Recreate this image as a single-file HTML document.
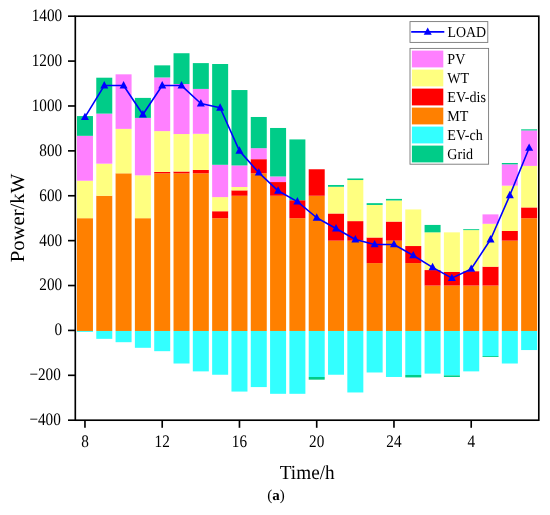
<!DOCTYPE html>
<html><head><meta charset="utf-8"><title>Power chart</title>
<style>
html,body{margin:0;padding:0;background:#fff;}
svg{display:block;}
text{font-family:"Liberation Serif","Times New Roman",serif;fill:#000;text-rendering:geometricPrecision;}
.tk{font-size:17.6px;}
.lg{font-size:15.3px;}
.ti{font-size:20px;}
.cap{font-size:15px;}
</style></head>
<body>
<svg width="550" height="515" viewBox="0 0 550 515">
<rect width="550" height="515" fill="#fff"/>
<g shape-rendering="auto">
<rect x="76.96" y="218.20" width="16.0" height="112.77" fill="#ff8000"/>
<rect x="76.96" y="180.72" width="16.0" height="37.48" fill="#ffff80"/>
<rect x="76.96" y="135.83" width="16.0" height="44.89" fill="#ff80ff"/>
<rect x="76.96" y="116.08" width="16.0" height="19.75" fill="#00cc88"/>
<rect x="76.96" y="330.97" width="16.0" height="0.90" fill="#33ffff"/>
<rect x="96.27" y="195.76" width="16.0" height="135.22" fill="#ff8000"/>
<rect x="96.27" y="163.66" width="16.0" height="32.10" fill="#ffff80"/>
<rect x="96.27" y="113.61" width="16.0" height="50.05" fill="#ff80ff"/>
<rect x="96.27" y="77.70" width="16.0" height="35.91" fill="#00cc88"/>
<rect x="96.27" y="330.97" width="16.0" height="7.86" fill="#33ffff"/>
<rect x="115.58" y="173.31" width="16.0" height="157.66" fill="#ff8000"/>
<rect x="115.58" y="128.87" width="16.0" height="44.44" fill="#ffff80"/>
<rect x="115.58" y="74.33" width="16.0" height="54.54" fill="#ff80ff"/>
<rect x="115.58" y="330.97" width="16.0" height="11.22" fill="#33ffff"/>
<rect x="134.89" y="218.20" width="16.0" height="112.77" fill="#ff8000"/>
<rect x="134.89" y="175.33" width="16.0" height="42.87" fill="#ffff80"/>
<rect x="134.89" y="117.87" width="16.0" height="57.46" fill="#ff80ff"/>
<rect x="134.89" y="97.90" width="16.0" height="19.98" fill="#00cc88"/>
<rect x="134.89" y="330.97" width="16.0" height="16.83" fill="#33ffff"/>
<rect x="154.21" y="173.31" width="16.0" height="157.66" fill="#ff8000"/>
<rect x="154.21" y="171.96" width="16.0" height="1.35" fill="#ff0000"/>
<rect x="154.21" y="131.12" width="16.0" height="40.85" fill="#ffff80"/>
<rect x="154.21" y="77.47" width="16.0" height="53.64" fill="#ff80ff"/>
<rect x="154.21" y="65.35" width="16.0" height="12.12" fill="#00cc88"/>
<rect x="154.21" y="330.97" width="16.0" height="20.20" fill="#33ffff"/>
<rect x="173.52" y="173.31" width="16.0" height="157.66" fill="#ff8000"/>
<rect x="173.52" y="171.52" width="16.0" height="1.80" fill="#ff0000"/>
<rect x="173.52" y="134.03" width="16.0" height="37.48" fill="#ffff80"/>
<rect x="173.52" y="83.98" width="16.0" height="50.05" fill="#ff80ff"/>
<rect x="173.52" y="53.23" width="16.0" height="30.75" fill="#00cc88"/>
<rect x="173.52" y="330.97" width="16.0" height="32.54" fill="#33ffff"/>
<rect x="192.83" y="173.31" width="16.0" height="157.66" fill="#ff8000"/>
<rect x="192.83" y="169.94" width="16.0" height="3.37" fill="#ff0000"/>
<rect x="192.83" y="133.81" width="16.0" height="36.14" fill="#ffff80"/>
<rect x="192.83" y="88.92" width="16.0" height="44.89" fill="#ff80ff"/>
<rect x="192.83" y="63.11" width="16.0" height="25.81" fill="#00cc88"/>
<rect x="192.83" y="330.97" width="16.0" height="40.40" fill="#33ffff"/>
<rect x="212.14" y="218.20" width="16.0" height="112.77" fill="#ff8000"/>
<rect x="212.14" y="211.24" width="16.0" height="6.96" fill="#ff0000"/>
<rect x="212.14" y="197.10" width="16.0" height="14.14" fill="#ffff80"/>
<rect x="212.14" y="164.78" width="16.0" height="32.32" fill="#ff80ff"/>
<rect x="212.14" y="64.01" width="16.0" height="100.78" fill="#00cc88"/>
<rect x="212.14" y="330.97" width="16.0" height="43.77" fill="#33ffff"/>
<rect x="231.46" y="195.76" width="16.0" height="135.22" fill="#ff8000"/>
<rect x="231.46" y="190.37" width="16.0" height="5.39" fill="#ff0000"/>
<rect x="231.46" y="187.00" width="16.0" height="3.37" fill="#ffff80"/>
<rect x="231.46" y="165.46" width="16.0" height="21.55" fill="#ff80ff"/>
<rect x="231.46" y="90.04" width="16.0" height="75.41" fill="#00cc88"/>
<rect x="231.46" y="330.97" width="16.0" height="60.60" fill="#33ffff"/>
<rect x="250.77" y="173.31" width="16.0" height="157.66" fill="#ff8000"/>
<rect x="250.77" y="159.17" width="16.0" height="14.14" fill="#ff0000"/>
<rect x="250.77" y="148.17" width="16.0" height="11.00" fill="#ff80ff"/>
<rect x="250.77" y="116.98" width="16.0" height="31.20" fill="#00cc88"/>
<rect x="250.77" y="330.97" width="16.0" height="56.11" fill="#33ffff"/>
<rect x="270.08" y="195.76" width="16.0" height="135.22" fill="#ff8000"/>
<rect x="270.08" y="182.06" width="16.0" height="13.69" fill="#ff0000"/>
<rect x="270.08" y="176.45" width="16.0" height="5.61" fill="#ff80ff"/>
<rect x="270.08" y="127.97" width="16.0" height="48.48" fill="#00cc88"/>
<rect x="270.08" y="330.97" width="16.0" height="62.84" fill="#33ffff"/>
<rect x="289.39" y="218.20" width="16.0" height="112.77" fill="#ff8000"/>
<rect x="289.39" y="200.24" width="16.0" height="17.96" fill="#ff0000"/>
<rect x="289.39" y="139.42" width="16.0" height="60.82" fill="#00cc88"/>
<rect x="289.39" y="330.97" width="16.0" height="62.84" fill="#33ffff"/>
<rect x="308.71" y="195.76" width="16.0" height="135.22" fill="#ff8000"/>
<rect x="308.71" y="169.27" width="16.0" height="26.48" fill="#ff0000"/>
<rect x="308.71" y="330.97" width="16.0" height="46.01" fill="#33ffff"/>
<rect x="308.71" y="376.98" width="16.0" height="2.69" fill="#00cc88"/>
<rect x="328.02" y="240.64" width="16.0" height="90.33" fill="#ff8000"/>
<rect x="328.02" y="213.49" width="16.0" height="27.16" fill="#ff0000"/>
<rect x="328.02" y="186.78" width="16.0" height="26.71" fill="#ffff80"/>
<rect x="328.02" y="184.98" width="16.0" height="1.80" fill="#00cc88"/>
<rect x="328.02" y="330.97" width="16.0" height="43.77" fill="#33ffff"/>
<rect x="347.33" y="240.64" width="16.0" height="90.33" fill="#ff8000"/>
<rect x="347.33" y="221.12" width="16.0" height="19.53" fill="#ff0000"/>
<rect x="347.33" y="180.04" width="16.0" height="41.07" fill="#ffff80"/>
<rect x="347.33" y="178.47" width="16.0" height="1.57" fill="#00cc88"/>
<rect x="347.33" y="330.97" width="16.0" height="61.50" fill="#33ffff"/>
<rect x="366.64" y="263.09" width="16.0" height="67.88" fill="#ff8000"/>
<rect x="366.64" y="237.50" width="16.0" height="25.59" fill="#ff0000"/>
<rect x="366.64" y="204.96" width="16.0" height="32.54" fill="#ffff80"/>
<rect x="366.64" y="203.16" width="16.0" height="1.80" fill="#00cc88"/>
<rect x="366.64" y="330.97" width="16.0" height="41.52" fill="#33ffff"/>
<rect x="385.96" y="240.64" width="16.0" height="90.33" fill="#ff8000"/>
<rect x="385.96" y="221.57" width="16.0" height="19.08" fill="#ff0000"/>
<rect x="385.96" y="200.47" width="16.0" height="21.10" fill="#ffff80"/>
<rect x="385.96" y="198.90" width="16.0" height="1.57" fill="#00cc88"/>
<rect x="385.96" y="330.97" width="16.0" height="46.01" fill="#33ffff"/>
<rect x="405.27" y="263.09" width="16.0" height="67.88" fill="#ff8000"/>
<rect x="405.27" y="246.03" width="16.0" height="17.06" fill="#ff0000"/>
<rect x="405.27" y="209.45" width="16.0" height="36.58" fill="#ffff80"/>
<rect x="405.27" y="330.97" width="16.0" height="43.99" fill="#33ffff"/>
<rect x="405.27" y="374.96" width="16.0" height="2.47" fill="#00cc88"/>
<rect x="424.58" y="285.53" width="16.0" height="45.44" fill="#ff8000"/>
<rect x="424.58" y="270.05" width="16.0" height="15.49" fill="#ff0000"/>
<rect x="424.58" y="232.34" width="16.0" height="37.71" fill="#ffff80"/>
<rect x="424.58" y="224.93" width="16.0" height="7.41" fill="#00cc88"/>
<rect x="424.58" y="330.97" width="16.0" height="42.64" fill="#33ffff"/>
<rect x="443.89" y="285.53" width="16.0" height="45.44" fill="#ff8000"/>
<rect x="443.89" y="271.84" width="16.0" height="13.69" fill="#ff0000"/>
<rect x="443.89" y="232.34" width="16.0" height="39.50" fill="#ffff80"/>
<rect x="443.89" y="330.97" width="16.0" height="44.44" fill="#33ffff"/>
<rect x="443.89" y="375.41" width="16.0" height="1.57" fill="#00cc88"/>
<rect x="463.21" y="285.53" width="16.0" height="45.44" fill="#ff8000"/>
<rect x="463.21" y="271.17" width="16.0" height="14.36" fill="#ff0000"/>
<rect x="463.21" y="230.10" width="16.0" height="41.07" fill="#ffff80"/>
<rect x="463.21" y="229.20" width="16.0" height="0.90" fill="#00cc88"/>
<rect x="463.21" y="330.97" width="16.0" height="40.40" fill="#33ffff"/>
<rect x="482.52" y="285.53" width="16.0" height="45.44" fill="#ff8000"/>
<rect x="482.52" y="266.68" width="16.0" height="18.85" fill="#ff0000"/>
<rect x="482.52" y="223.81" width="16.0" height="42.87" fill="#ffff80"/>
<rect x="482.52" y="214.38" width="16.0" height="9.43" fill="#ff80ff"/>
<rect x="482.52" y="330.97" width="16.0" height="25.14" fill="#33ffff"/>
<rect x="482.52" y="356.11" width="16.0" height="0.90" fill="#00cc88"/>
<rect x="501.83" y="240.64" width="16.0" height="90.33" fill="#ff8000"/>
<rect x="501.83" y="230.99" width="16.0" height="9.65" fill="#ff0000"/>
<rect x="501.83" y="185.66" width="16.0" height="45.34" fill="#ffff80"/>
<rect x="501.83" y="164.33" width="16.0" height="21.32" fill="#ff80ff"/>
<rect x="501.83" y="162.99" width="16.0" height="1.35" fill="#00cc88"/>
<rect x="501.83" y="330.97" width="16.0" height="32.54" fill="#33ffff"/>
<rect x="521.14" y="218.20" width="16.0" height="112.77" fill="#ff8000"/>
<rect x="521.14" y="207.43" width="16.0" height="10.77" fill="#ff0000"/>
<rect x="521.14" y="165.90" width="16.0" height="41.52" fill="#ffff80"/>
<rect x="521.14" y="130.44" width="16.0" height="35.46" fill="#ff80ff"/>
<rect x="521.14" y="129.32" width="16.0" height="1.12" fill="#00cc88"/>
<rect x="521.14" y="330.97" width="16.0" height="19.08" fill="#33ffff"/>
</g>
<polyline points="84.96,117.20 104.27,85.55 123.58,85.55 142.89,114.51 162.21,85.55 181.52,85.55 200.83,103.51 220.14,107.77 239.46,150.87 258.77,172.64 278.08,190.82 297.39,201.59 316.71,217.75 336.02,228.52 355.33,239.52 374.64,244.46 393.96,244.46 413.27,255.46 432.58,267.35 451.89,278.13 471.21,268.92 490.52,239.52 509.83,195.31 529.14,147.95" fill="none" stroke="#0000ff" stroke-width="1.6" stroke-linejoin="round"/>
<polygon points="84.96,112.70 80.96,120.10 88.96,120.10" fill="#0000ff"/>
<polygon points="104.27,81.05 100.27,88.45 108.27,88.45" fill="#0000ff"/>
<polygon points="123.58,81.05 119.58,88.45 127.58,88.45" fill="#0000ff"/>
<polygon points="142.89,110.01 138.89,117.41 146.89,117.41" fill="#0000ff"/>
<polygon points="162.21,81.05 158.21,88.45 166.21,88.45" fill="#0000ff"/>
<polygon points="181.52,81.05 177.52,88.45 185.52,88.45" fill="#0000ff"/>
<polygon points="200.83,99.01 196.83,106.41 204.83,106.41" fill="#0000ff"/>
<polygon points="220.14,103.27 216.14,110.67 224.14,110.67" fill="#0000ff"/>
<polygon points="239.46,146.37 235.46,153.77 243.46,153.77" fill="#0000ff"/>
<polygon points="258.77,168.14 254.77,175.54 262.77,175.54" fill="#0000ff"/>
<polygon points="278.08,186.32 274.08,193.72 282.08,193.72" fill="#0000ff"/>
<polygon points="297.39,197.09 293.39,204.49 301.39,204.49" fill="#0000ff"/>
<polygon points="316.71,213.25 312.71,220.65 320.71,220.65" fill="#0000ff"/>
<polygon points="336.02,224.02 332.02,231.42 340.02,231.42" fill="#0000ff"/>
<polygon points="355.33,235.02 351.33,242.42 359.33,242.42" fill="#0000ff"/>
<polygon points="374.64,239.96 370.64,247.36 378.64,247.36" fill="#0000ff"/>
<polygon points="393.96,239.96 389.96,247.36 397.96,247.36" fill="#0000ff"/>
<polygon points="413.27,250.96 409.27,258.36 417.27,258.36" fill="#0000ff"/>
<polygon points="432.58,262.85 428.58,270.25 436.58,270.25" fill="#0000ff"/>
<polygon points="451.89,273.63 447.89,281.03 455.89,281.03" fill="#0000ff"/>
<polygon points="471.21,264.42 467.21,271.82 475.21,271.82" fill="#0000ff"/>
<polygon points="490.52,235.02 486.52,242.42 494.52,242.42" fill="#0000ff"/>
<polygon points="509.83,190.81 505.83,198.21 513.83,198.21" fill="#0000ff"/>
<polygon points="529.14,143.45 525.14,150.85 533.14,150.85" fill="#0000ff"/>
<rect x="75.3" y="16.2" width="463.50" height="404.00" fill="none" stroke="#000" stroke-width="1.65"/>
<line x1="68.00" y1="420.20" x2="75.30" y2="420.20" stroke="#000" stroke-width="1.65"/>
<text transform="translate(60.80,425.15) scale(0.865,1)" text-anchor="end" class="tk">−400</text>
<line x1="68.00" y1="375.31" x2="75.30" y2="375.31" stroke="#000" stroke-width="1.65"/>
<text transform="translate(60.80,380.26) scale(0.865,1)" text-anchor="end" class="tk">−200</text>
<line x1="68.00" y1="330.42" x2="75.30" y2="330.42" stroke="#000" stroke-width="1.65"/>
<text transform="translate(62.10,335.37) scale(0.865,1)" text-anchor="end" class="tk">0</text>
<line x1="68.00" y1="285.53" x2="75.30" y2="285.53" stroke="#000" stroke-width="1.65"/>
<text transform="translate(62.10,290.48) scale(0.865,1)" text-anchor="end" class="tk">200</text>
<line x1="68.00" y1="240.64" x2="75.30" y2="240.64" stroke="#000" stroke-width="1.65"/>
<text transform="translate(62.10,245.59) scale(0.865,1)" text-anchor="end" class="tk">400</text>
<line x1="68.00" y1="195.76" x2="75.30" y2="195.76" stroke="#000" stroke-width="1.65"/>
<text transform="translate(62.10,200.71) scale(0.865,1)" text-anchor="end" class="tk">600</text>
<line x1="68.00" y1="150.87" x2="75.30" y2="150.87" stroke="#000" stroke-width="1.65"/>
<text transform="translate(62.10,155.82) scale(0.865,1)" text-anchor="end" class="tk">800</text>
<line x1="68.00" y1="105.98" x2="75.30" y2="105.98" stroke="#000" stroke-width="1.65"/>
<text transform="translate(62.10,110.93) scale(0.865,1)" text-anchor="end" class="tk">1000</text>
<line x1="68.00" y1="61.09" x2="75.30" y2="61.09" stroke="#000" stroke-width="1.65"/>
<text transform="translate(62.10,66.04) scale(0.865,1)" text-anchor="end" class="tk">1200</text>
<line x1="68.00" y1="16.20" x2="75.30" y2="16.20" stroke="#000" stroke-width="1.65"/>
<text transform="translate(62.10,21.15) scale(0.865,1)" text-anchor="end" class="tk">1400</text>
<line x1="84.96" y1="420.20" x2="84.96" y2="427.80" stroke="#000" stroke-width="1.65"/>
<text transform="translate(84.96,447.20) scale(0.865,1)" text-anchor="middle" class="tk">8</text>
<line x1="162.21" y1="420.20" x2="162.21" y2="427.80" stroke="#000" stroke-width="1.65"/>
<text transform="translate(162.21,447.20) scale(0.865,1)" text-anchor="middle" class="tk">12</text>
<line x1="239.46" y1="420.20" x2="239.46" y2="427.80" stroke="#000" stroke-width="1.65"/>
<text transform="translate(239.46,447.20) scale(0.865,1)" text-anchor="middle" class="tk">16</text>
<line x1="316.71" y1="420.20" x2="316.71" y2="427.80" stroke="#000" stroke-width="1.65"/>
<text transform="translate(316.71,447.20) scale(0.865,1)" text-anchor="middle" class="tk">20</text>
<line x1="393.96" y1="420.20" x2="393.96" y2="427.80" stroke="#000" stroke-width="1.65"/>
<text transform="translate(393.96,447.20) scale(0.865,1)" text-anchor="middle" class="tk">24</text>
<line x1="471.21" y1="420.20" x2="471.21" y2="427.80" stroke="#000" stroke-width="1.65"/>
<text transform="translate(471.21,447.20) scale(0.865,1)" text-anchor="middle" class="tk">4</text>
<rect x="410.0" y="21.6" width="77.8" height="20.8" fill="#fff" stroke="#777" stroke-width="0.9"/>
<line x1="411.2" y1="31.9" x2="444.3" y2="31.9" stroke="#0000ff" stroke-width="1.7"/>
<polygon points="427.70,27.40 423.70,34.80 431.70,34.80" fill="#0000ff"/>
<text transform="translate(447.40,37.00) scale(0.91,1)" text-anchor="start" class="lg">LOAD</text>
<rect x="410.0" y="48.4" width="78.6" height="115.8" fill="#fff" stroke="#777" stroke-width="0.9"/>
<rect x="411.9" y="50.60" width="31.4" height="16.8" fill="#ff80ff"/>
<text transform="translate(447.30,64.20) scale(0.92,1)" text-anchor="start" class="lg">PV</text>
<rect x="411.9" y="69.60" width="31.4" height="16.8" fill="#ffff80"/>
<text transform="translate(447.30,83.20) scale(0.92,1)" text-anchor="start" class="lg">WT</text>
<rect x="411.9" y="88.60" width="31.4" height="16.8" fill="#ff0000"/>
<text transform="translate(447.30,102.20) scale(0.92,1)" text-anchor="start" class="lg">EV-dis</text>
<rect x="411.9" y="107.60" width="31.4" height="16.8" fill="#ff8000"/>
<text transform="translate(447.30,121.20) scale(0.92,1)" text-anchor="start" class="lg">MT</text>
<rect x="411.9" y="126.60" width="31.4" height="16.8" fill="#33ffff"/>
<text transform="translate(447.30,140.20) scale(0.92,1)" text-anchor="start" class="lg">EV-ch</text>
<rect x="411.9" y="145.60" width="31.4" height="16.8" fill="#00cc88"/>
<text transform="translate(447.30,159.20) scale(0.92,1)" text-anchor="start" class="lg">Grid</text>
<text transform="translate(307.20,479.40) scale(0.96,1)" text-anchor="middle" class="ti">Time/h</text>
<text transform="translate(23.9,218.1) rotate(-90) scale(1.035,1)" text-anchor="middle" class="ti">Power/kW</text>
<text x="275.9" y="499.8" text-anchor="middle" class="cap">(<tspan font-weight="bold">a</tspan>)</text>
</svg>
</body></html>
